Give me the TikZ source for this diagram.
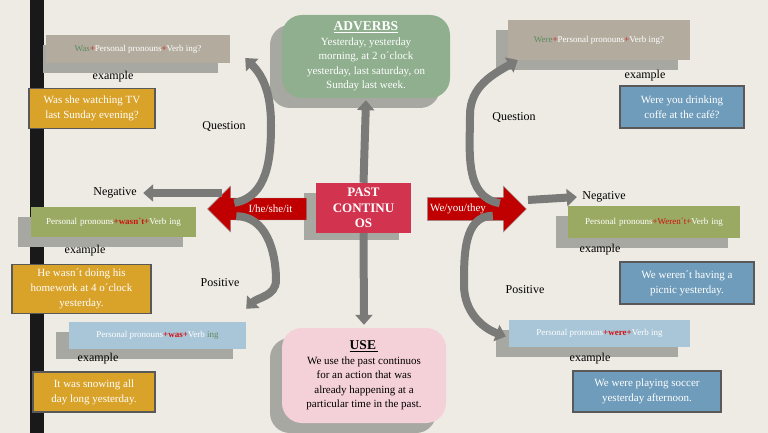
\documentclass[tikz,border=0pt]{standalone}
\usepackage{fontspec}
\setmainfont{Liberation Serif}
\usetikzlibrary{shapes.arrows,arrows.meta}
\definecolor{bg}{HTML}{EEEBE4}
\definecolor{shad}{HTML}{A8A8A2}
\definecolor{tan}{HTML}{B3AC9E}
\definecolor{grn}{HTML}{9BAA62}
\definecolor{lblue}{HTML}{A9C6D8}
\definecolor{ora}{HTML}{D9A229}
\definecolor{dblue}{HTML}{6F9CBB}
\definecolor{advg}{HTML}{8FAF8E}
\definecolor{crim}{HTML}{D2334F}
\definecolor{dred}{HTML}{C00000}
\definecolor{pink}{HTML}{F4D0D8}
\definecolor{garr}{HTML}{7A7B78}
\definecolor{wg}{HTML}{5E8A5E}
\definecolor{rr}{HTML}{D01010}
\newcommand{\pl}{\textcolor{rr}{+}}
\tikzset{
  formbox/.style={text=white,font=\fontsize{9}{11}\selectfont,align=center,inner sep=1pt},
  exbox/.style={fill=ora,draw=black!65,line width=1.5pt,text=white,font=\fontsize{11}{15}\selectfont,align=center,inner sep=1pt},
  bexbox/.style={exbox,fill=dblue},
  lab/.style={font=\fontsize{12}{14}\selectfont,text=black},
  garrow/.style={draw=garr,line width=8pt,-{Triangle[width=17pt,length=10pt]}},
  redarr/.style={single arrow,fill=dred,draw=black!40,text=white,font=\fontsize{11}{12}\selectfont,minimum height=99pt,minimum width=46pt,single arrow head extend=11pt,single arrow head indent=0pt,inner xsep=1pt,inner ysep=6pt},
}
\begin{document}
\begin{tikzpicture}[x=1pt,y=-1pt]
\fill[bg] (0,0) rectangle (768,433);
\useasboundingbox (0,0) rectangle (768,433);
\fill[black!90] (30,0) rectangle (44,433);
% shadows
\fill[shad] (43,45) rectangle (218,73);
\fill[shad] (18,217) rectangle (183,247);
\fill[shad] (56,332) rectangle (233,359);
\fill[shad] (496,30) rectangle (678,70);
\fill[shad] (556,216) rectangle (728,248);
\fill[shad] (496,330) rectangle (678,357);
\fill[shad,rounded corners=20pt] (270,25) rectangle (440,108);
\fill[shad,rounded corners=20pt] (270,338) rectangle (436,433);
\fill[shad] (304,193) rectangle (399,240);
% left side
\node[formbox,fill=tan,minimum width=184pt,minimum height=28pt] (lq) at (138,49) {\textcolor{wg}{Was}\pl Personal pronouns\pl Verb ing?};
\node[lab] (lqe) at (113,77) {example};
\node[exbox,minimum width=126pt,minimum height=40pt] (lqx) at (92,108.5) {Was she watching TV\\last Sunday evening?};
\node[lab] (lql) at (224,126) {Question};
\node[lab] (lnl) at (115,193) {Negative};
\node[formbox,fill=grn,minimum width=165pt,minimum height=30pt,text width=150pt] (ln) at (113.5,222) {Personal pronouns\textcolor{rr}{\textbf{+wasn´t+}}Verb ing};
\node[lab] (lne) at (85,251) {example};
\node[exbox,minimum width=139pt,minimum height=49pt] (lnx) at (81.5,289) {He wasn´t doing his\\homework at 4 o´clock\\yesterday.};
\node[lab] (lpl) at (220,283) {Positive};
\node[formbox,fill=lblue,minimum width=177pt,minimum height=27pt] (lp) at (157.5,335.5) {Personal pronouns\textcolor{rr}{\textbf{+was+}}Verb \textcolor{wg}{ing}};
\node[lab] (lpe) at (98,359) {example};
\node[exbox,minimum width=122pt,minimum height=40pt] (lpx) at (94,392) {It was snowing all\\day long yesterday.};
% centre
\node[fill=advg,rounded corners=20pt,minimum width=168pt,minimum height=83pt,text=white,align=center,font=\fontsize{11}{14.5}\selectfont,inner sep=1pt] (adv) at (366,56.5) {{\fontsize{13.5}{15}\selectfont\textbf{\underline{ADVERBS}}}\\Yesterday, yesterday\\morning, at 2 o´clock\\yesterday, last saturday, on\\Sunday last week.};
\node[fill=crim,minimum width=95pt,minimum height=50pt,text=white,align=center,font=\bfseries\fontsize{13}{15.5}\selectfont,inner sep=1pt] (ctr) at (363.5,208) {PAST\\CONTINU\\OS};
\node[fill=pink,rounded corners=20pt,minimum width=164pt,minimum height=95pt,align=center,font=\fontsize{11}{14.5}\selectfont,inner sep=1pt] (use) at (364,375.5) {{\fontsize{13.5}{15}\selectfont\textbf{\underline{USE\,}}}\\We use the past continuos\\for an action that was\\already happening at a\\particular time in the past.};
\node[redarr,shape border rotate=180] (larr) at (262.5,209) {\hspace*{16pt}I/he/she/it};
\node[redarr] (rarr) at (471,209) {We/you/they\hspace*{26pt}};
\draw[garrow] (ctr.north) -- ([yshift=-2pt]adv.south);
\draw[garrow] (ctr.south) -- ([yshift=3pt]use.north);
% right side
\node[formbox,fill=tan,minimum width=182pt,minimum height=40pt] (rq) at (599,40) {\textcolor{wg}{Were}\pl Personal pronouns\pl Verb ing?};
\node[lab] (rqe) at (645,76) {example};
\node[bexbox,minimum width=124pt,minimum height=42pt] (rqx) at (682,107) {Were you drinking\\coffe at the café?};
\node[lab] (rql) at (514,118) {Question};
\node[lab] (rnl) at (604,197) {Negative};
\node[formbox,fill=grn,minimum width=172pt,minimum height=32pt,text width=156pt] (rn) at (654,222) {Personal pronouns\textcolor{rr}{+Weren´t+}Verb ing};
\node[lab] (rne) at (600,250) {example};
\node[bexbox,minimum width=134pt,minimum height=42pt] (rnx) at (687,283) {We weren´t having a\\picnic yesterday.};
\node[lab] (rpl) at (525,290) {Positive};
\node[formbox,fill=lblue,minimum width=181pt,minimum height=27pt] (rp) at (599.5,333.5) {Personal pronouns\textcolor{rr}{\textbf{+were+}}Verb ing};
\node[lab] (rpe) at (590,359) {example};
\node[bexbox,minimum width=148pt,minimum height=41pt] (rpx) at (647,391.5) {We were playing soccer\\yesterday afternoon.};
% grey connectors
\coordinate (ln0) at (222,193);
\coordinate (rn0) at (528,200);
\draw[garrow] (ln0) -- ([xshift=3pt]lnl.east);
\draw[garrow] (rn0) -- ([xshift=-2pt]rnl.west);
\draw[garrow] ([xshift=-17pt,yshift=-5pt]larr.north west) to[out=10,in=-90] (271,125) to[out=90,in=-45] ([xshift=15pt,yshift=-9pt]lq.east);
\draw[garrow] ([xshift=-15pt,yshift=4pt]larr.south west) to[out=0,in=90] (276,280) to[out=-90,in=45] ([yshift=13pt]lp.north east);
\draw[garrow] ([xshift=17pt,yshift=-6pt]rarr.north east) to[out=170,in=-90] (470,115) to[out=90,in=-150] ([xshift=10pt,yshift=-20pt]rq.west);
\draw[garrow] ([xshift=10pt,yshift=5pt]rarr.south east) to[out=180,in=90] (464,285) to[out=-90,in=160] ([xshift=-3pt,yshift=-3pt]rp.west);
\end{tikzpicture}
\end{document}
